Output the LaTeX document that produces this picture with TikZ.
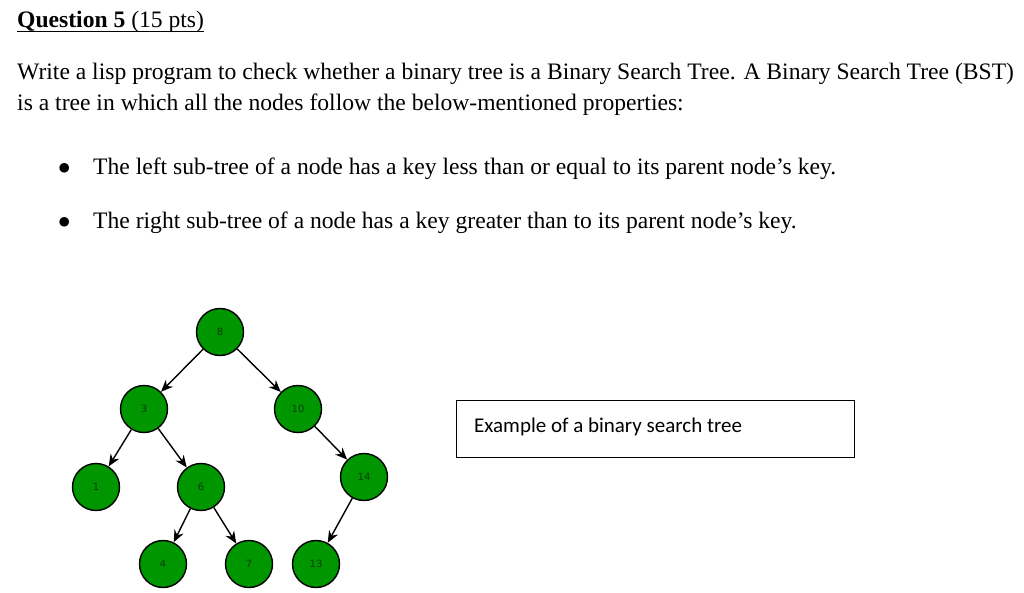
\documentclass[tikz,border=0pt]{standalone}
\usepackage{fontspec}
\setmainfont{Liberation Serif}
\newfontfamily\calib{Carlito}
\newfontfamily\dejav{DejaVu Sans}
\usetikzlibrary{arrows.meta}
\definecolor{tgreen}{RGB}{0,150,0}
\definecolor{tnum}{RGB}{10,60,10}
\newcommand{\apo}{{\char39}}
\tikzset{
  tn/.style={circle,draw=black,line width=1.4pt,fill=tgreen,minimum size=47pt,inner sep=0pt,font=\dejav\fontsize{10}{12}\selectfont,text=tnum},
  tedge/.style={-{Stealth[length=12pt,width=10pt]},line width=1.4pt},
  body/.style={anchor=base west,inner sep=0pt,font=\fontsize{23.6}{28}\selectfont}
}
\begin{document}
\begin{tikzpicture}[x=1pt,y=-1pt]
\useasboundingbox[fill=white] (0,0) rectangle (1024,593);
\node[body] (title) at (17,28) {\textbf{Question 5} (15 pts)};
\draw[line width=1.2pt] (17,31.5) -- (title.east |- 0,31.5);
\node[body] (l1) at (17,80) {Write a lisp program to check whether a binary tree is a Binary Search Tree. A Binary Search Tree (BST)};
\node[body] (l2) at (17,111) {is a tree in which all the nodes follow the below-mentioned properties:};
\node[body] (b1) at (58,175) {$\bullet$};
\node[body] (t1) at (93,175) {The left sub-tree of a node has a key less than or equal to its parent node\apo s key.};
\node[body] (b2) at (58,229) {$\bullet$};
\node[body] (t2) at (93,229) {The right sub-tree of a node has a key greater than to its parent node\apo s key.};
\node[draw=black,line width=0.8pt,minimum width=398pt,minimum height=57pt,anchor=north west] (box) at (456,400) {};
\node[anchor=base west,inner sep=0pt,font=\calib\fontsize{21}{25}\selectfont] (cap) at (474,432) {Example of a binary search tree};
\node[tn] (n8) at (220,332) {8};
\node[tn] (n3) at (144,409) {3};
\node[tn] (n10) at (298,409) {10};
\node[tn] (n1) at (96,487) {1};
\node[tn] (n6) at (201,487) {6};
\node[tn] (n14) at (364,477) {14};
\node[tn] (n4) at (163,564) {4};
\node[tn] (n7) at (249,564) {7};
\node[tn] (n13) at (316,564) {13};
\draw[tedge] (n8) -- (n3);
\draw[tedge] (n8) -- (n10);
\draw[tedge] (n3) -- (n1);
\draw[tedge] (n3) -- (n6);
\draw[tedge] (n10) -- (n14);
\draw[tedge] (n6) -- (n4);
\draw[tedge] (n6) -- (n7);
\draw[tedge] (n14) -- (n13);
\end{tikzpicture}
\end{document}
